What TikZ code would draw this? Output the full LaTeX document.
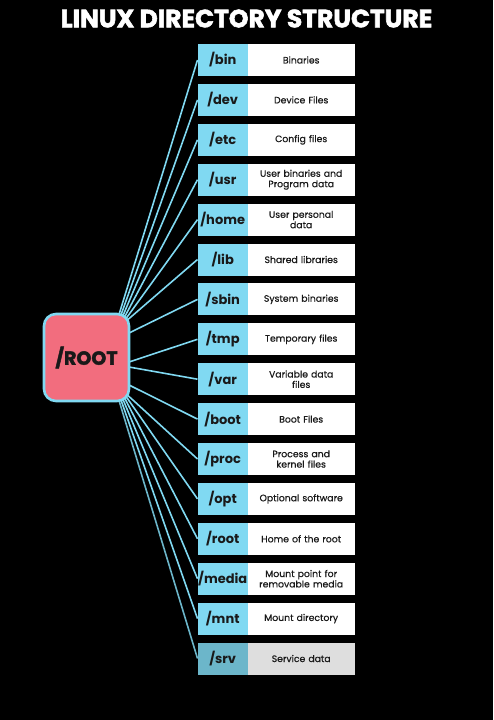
\documentclass[tikz,border=0pt]{standalone}
\usepackage{fontspec}
\setmainfont{Poppins}
\newfontfamily\heavyfont{Poppins}[UprightFeatures={FakeBold=2.2}, BoldFeatures={FakeBold=2.2}]
\newfontfamily\medfont{Poppins}[UprightFeatures={FakeBold=0.5}]
\usetikzlibrary{calc}
\definecolor{cy}{HTML}{80D9F2}
\definecolor{cydim}{HTML}{6CB6CA}
\definecolor{pk}{HTML}{F26D7E}
\definecolor{wdim}{HTML}{DEDEDE}
\pgfdeclarelayer{bglayer}
\pgfdeclarelayer{linelayer}
\pgfsetlayers{bglayer,linelayer,main}
\begin{document}
\begin{tikzpicture}[x=1pt,y=-1pt,
  dirbox/.style={fill=cy, minimum width=50pt, minimum height=32pt, inner sep=0pt, anchor=west, text=black!90,
    font=\bfseries\fontsize{13}{15}\selectfont},
  descbox/.style={fill=white, minimum width=107pt, minimum height=32pt, inner sep=0pt, anchor=west, align=center,
    text width=104pt, text=black!90, font=\medfont\fontsize{9.3}{10.4}\selectfont},
  rootbox/.style={fill=pk, draw=cy, line width=2.6pt, rounded corners=12pt, minimum width=85pt, minimum height=87pt,
    inner sep=0pt, text=black!90, font=\heavyfont\bfseries\fontsize{19}{22}\selectfont},
  link/.style={draw=cy, line width=1.6pt},
  titletext/.style={text=white, font=\heavyfont\bfseries\fontsize{25}{28}\selectfont}
]
\begin{pgfonlayer}{bglayer}
\fill[black] (0,0) rectangle (493,720);
\end{pgfonlayer}
\useasboundingbox (0,0) rectangle (493,720);
\node[titletext] (title) at (246.5,18.5) {LINUX DIRECTORY STRUCTURE};
\node[rootbox] (root) at (86.5,357.5) {/ROOT};
\foreach \n/\d [count=\i from 0] in {
  bin/Binaries,
  dev/Device Files,
  etc/Config files,
  usr/{User binaries and\\Program data},
  home/{User personal\\data},
  lib/Shared libraries,
  sbin/System binaries,
  tmp/Temporary files,
  var/{Variable data\\files},
  boot/Boot Files,
  proc/{Process and\\kernel files},
  opt/Optional software,
  root/Home of the root,
  media/{Mount point for\\removable media},
  mnt/Mount directory}{
  \node[dirbox] (b\i) at (197.5,{60+39.9*\i}) {/\n};
  \node[descbox] (d\i) at (247.5,{60+39.9*\i}) {\d};
}
\node[dirbox, fill=cydim] (b15) at (197.5,{60+39.9*15}) {/srv};
\node[descbox, fill=wdim] (d15) at (247.5,{60+39.9*15}) {Service data};
\begin{pgfonlayer}{linelayer}
\foreach \i/\dx/\dy in {0/32.6/-43.3, 1/34.6/-42.8, 2/36.5/-41.9, 3/38.2/-40.7, 4/39.7/-39.2, 5/40.9/-37.5,
  6/42.5/-24.5, 7/42.5/4.5, 8/42.5/9.5, 9/42.5/27.5,
  10/40.9/37.5, 11/39.7/39.2, 12/38.2/40.7, 13/36.5/41.9, 14/34.6/42.8}{
  \draw[link] ($(root.center)+(\dx,\dy)$) -- (b\i.west);
}
\draw[link, draw=cydim] ($(root.center)+(32.6,43.3)$) -- (b15.west);
\end{pgfonlayer}
\end{tikzpicture}
\end{document}
